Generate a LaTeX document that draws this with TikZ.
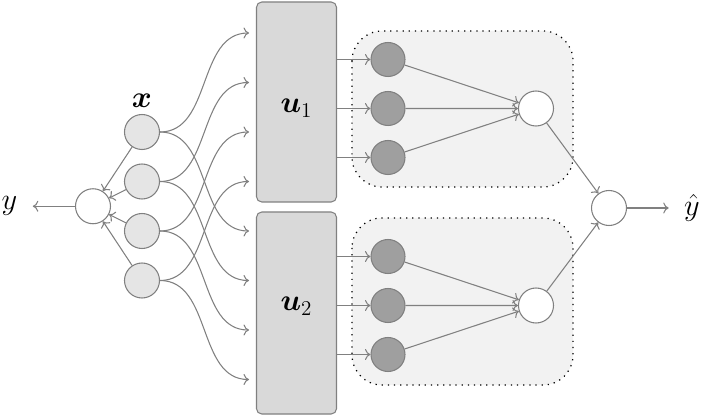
\documentclass[tikz,border=0pt]{standalone}
\usepackage{amsmath,bm}
\usetikzlibrary{positioning,arrows.meta}
\begin{document}
\begin{tikzpicture}[>={Computer Modern Rightarrow[length=1.1mm,width=2.2mm]}, line width=0.6pt,
    inp/.style={circle, draw=gray, fill=gray!20, minimum size=0.7cm, inner sep=0},
    hid/.style={circle, draw=gray, fill=gray!75, minimum size=0.68cm, inner sep=0},
    outp/.style={circle, draw=gray, fill=white, minimum size=0.7cm, inner sep=0},
    block/.style={draw=gray, fill=gray!30, rounded corners=3pt, minimum width=1.6cm, inner sep=0},
    group/.style={draw, dash pattern=on 0.7pt off 2.8pt, line width=0.7pt, fill=gray!10, rounded corners=0.6cm},
    edge/.style={->, draw=gray},
    lab/.style={font=\LARGE, inner sep=0.3cm}]
\useasboundingbox (0,0) rectangle (14.06,-8.38);

% dotted groups
\draw[group] (7.04,-0.62) rectangle (11.46,-3.74);
\draw[group] (7.04,-4.36) rectangle (11.46,-7.70);

% blocks
\node[block, minimum height=4.0cm] (u1) at (5.93,-2.04) {};
\node[block, minimum height=4.04cm] (u2) at (5.93,-6.26) {};
\node[font=\LARGE] at (5.93,-2.16) {$\bm{u}_1$};
\node[font=\LARGE] at (5.93,-6.12) {$\bm{u}_2$};

% inputs
\foreach \j in {1,...,8}
  \coordinate (in\j) at (4.98,0.33-0.99*\j);
\node[outp] (yc) at (1.86,-4.125) {};
\node[lab] (ylab) at (0.19,-4.125) {$y$};
\draw[edge] (yc) -- (ylab);
\foreach \i [evaluate=\i as \k using int(\i+4)] in {1,...,4} {
  \node[inp] (x\i) at (2.84,-1.65-0.99*\i) {};
  \draw[edge] (x\i.east) to[out=0,in=180] (in\i);
  \draw[edge] (x\i.east) to[out=0,in=180] (in\k);
  \draw[edge] (x\i) -- (yc);
}
\node[above=0pt of x1, font=\LARGE] (xlab) {$\bm{x}$};

% output
\node[outp] (fin) at (12.18,-4.16) {};
\node[lab] (yhat) at (13.84,-4.16) {$\hat{y}$};
\draw[edge] (fin) -- (yhat);

% hidden units
\foreach \g/\c in {1/-2.17, 2/-6.11} {
  \node[outp] (o\g) at (10.72,\c) {};
  \foreach \i in {1,2,3} {
    \node[hid] (h\g\i) at (7.76,\c+1.96-0.98*\i) {};
    \draw[edge] (u\g.east |- h\g\i) -- (h\g\i);
    \draw[edge] (h\g\i) -- (o\g);
  }
  \draw[edge] (o\g) -- (fin);
}
\end{tikzpicture}
\end{document}
